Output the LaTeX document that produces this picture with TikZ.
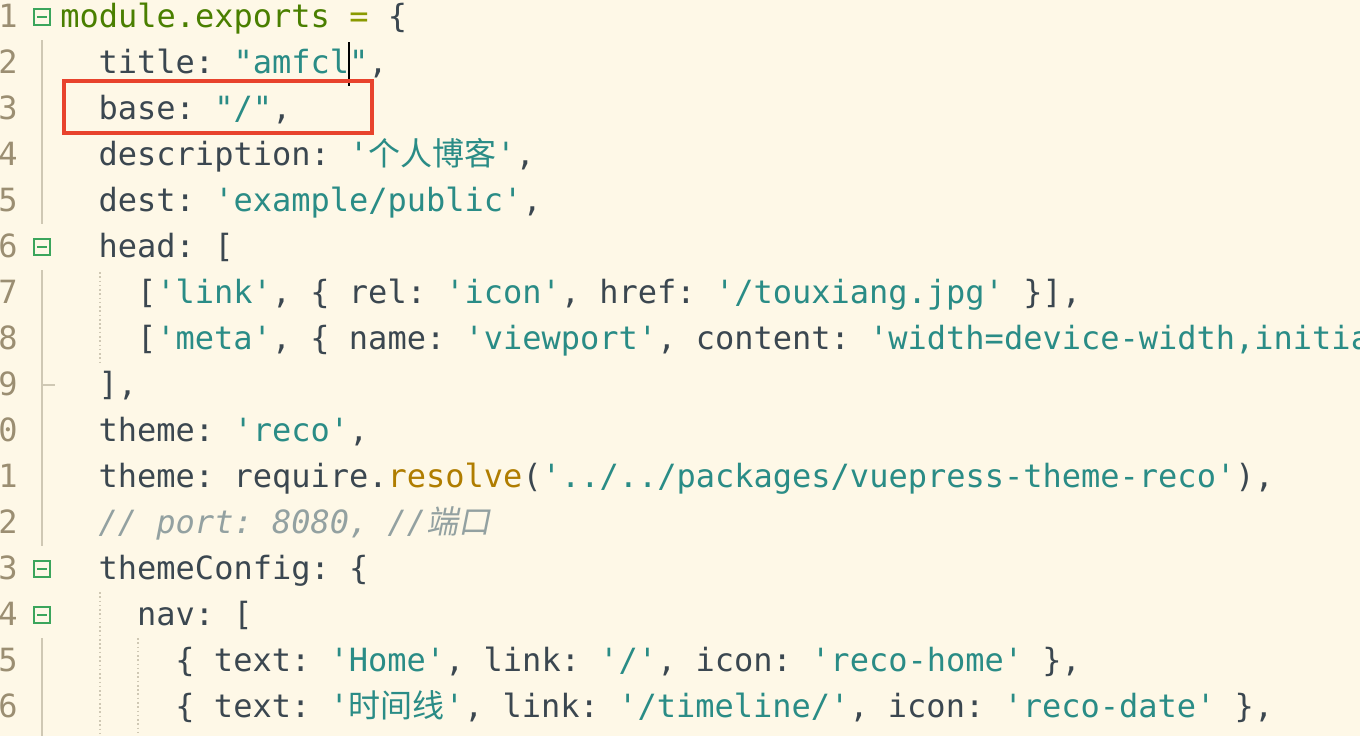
\documentclass[tikz,border=0pt]{standalone}
\usepackage{fontspec}
\newfontfamily\codefont{DejaVu Sans Mono}
\newfontfamily\cjk{Noto Sans CJK SC}
\newfontfamily\cjkit[FakeSlant=0.2]{Noto Sans CJK SC}
\definecolor{bgc}{HTML}{FEF8E7}
\definecolor{keyc}{HTML}{3B4750}
\definecolor{strc}{HTML}{2A8C86}
\definecolor{modc}{HTML}{4A7F00}
\definecolor{eqc}{HTML}{8A9A00}
\definecolor{fnc}{HTML}{B07D00}
\definecolor{comc}{HTML}{93A1A1}
\definecolor{numc}{HTML}{9B8E72}
\definecolor{foldc}{HTML}{3BA55C}
\definecolor{guidec}{HTML}{CFC8B4}
\definecolor{boxc}{HTML}{E8432D}
\newcommand{\Str}[1]{\textcolor{strc}{#1}}
\newcommand{\Cn}[1]{{\cjk #1}}
\frenchspacing
\tikzset{
  codeline/.style={anchor=base west,inner sep=0pt,text=keyc,
    font=\codefont\fontsize{24}{24}\selectfont\frenchspacing},
  lineno/.style={anchor=base east,inner sep=0pt,text=numc,
    font=\codefont\fontsize{24}{24}\selectfont},
  foldbox/.style={draw=foldc,line width=1.4pt,minimum size=12pt,inner sep=0pt}
}
\begin{document}
\begin{tikzpicture}[x=0.75pt,y=-0.75pt]
  \useasboundingbox[fill=bgc] (0,0) rectangle (1360,736);
  \clip (0,0) rectangle (1360,736);

  % indent guides
  \draw[guidec,line width=1.2pt] (42,40) -- (42,224);
  \draw[guidec,line width=1.2pt] (42,270) -- (42,546);
  \draw[guidec,line width=1.2pt] (42,385) -- (55,385);
  \draw[guidec,line width=1.2pt] (42,638) -- (42,736);
  \draw[guidec,dotted,line width=1.2pt] (100,272) -- (100,362);
  \draw[guidec,dotted,line width=1.2pt] (100,592) -- (100,736);
  \draw[guidec,dotted,line width=1.2pt] (138,638) -- (138,736);

  % line numbers
  \foreach \n [count=\i] in {1,2,3,4,5,6,7,8,9,0,1,2,3,4,5,6}
    \node[lineno] (n\i) at (18,{27+46*(\i-1)}) {\n};

  % fold markers
  \foreach \i in {1,6,13,14} {
    \node[foldbox] (f\i) at (42,{17+46*(\i-1)}) {};
    \draw[foldc,line width=1.4pt] (37,{17+46*(\i-1)}) -- (47,{17+46*(\i-1)});
  }

  % code
  \node[codeline] (l1) at (60,27) {\textcolor{modc}{module.exports} \textcolor{eqc}{=} \{};
  \node[codeline] (l2) at (98.4,73) {title: \Str{"amfcl"},};
  \node[codeline] (l3) at (98.4,119) {base: \Str{"/"},};
  \node[codeline] (l4) at (98.4,165) {description: \Str{'\Cn{个人博客}'},};
  \node[codeline] (l5) at (98.4,211) {dest: \Str{'example/public'},};
  \node[codeline] (l6) at (98.4,257) {head: [};
  \node[codeline] (l7) at (136.8,303) {[\Str{'link'}, \{ rel: \Str{'icon'}, href: \Str{'/touxiang.jpg'} \}],};
  \node[codeline] (l8) at (136.8,349) {[\Str{'meta'}, \{ name: \Str{'viewport'}, content: \Str{'width=device-width,initia}};
  \node[codeline] (l9) at (98.4,395) {],};
  \node[codeline] (l10) at (98.4,441) {theme: \Str{'reco'},};
  \node[codeline] (l11) at (98.4,487) {theme: require.\textcolor{fnc}{resolve}(\Str{'../../packages/vuepress-theme-reco'}),};
  \node[codeline,text=comc] (l12) at (98.4,533) {\itshape // port: 8080, //{\cjkit 端口}};
  \node[codeline] (l13) at (98.4,579) {themeConfig: \{};
  \node[codeline] (l14) at (136.8,625) {nav: [};
  \node[codeline] (l15) at (175.2,671) {\{ text: \Str{'Home'}, link: \Str{'/'}, icon: \Str{'reco-home'} \},};
  \node[codeline] (l16) at (175.2,717) {\{ text: \Str{'\Cn{时间线}'}, link: \Str{'/timeline/'}, icon: \Str{'reco-date'} \},};

  % cursor and highlight
  \draw[black,line width=1.8pt] (349,42) -- (349,86);
  \draw[boxc,line width=2.4pt] (64,81) rectangle (372,133);
\end{tikzpicture}
\end{document}
